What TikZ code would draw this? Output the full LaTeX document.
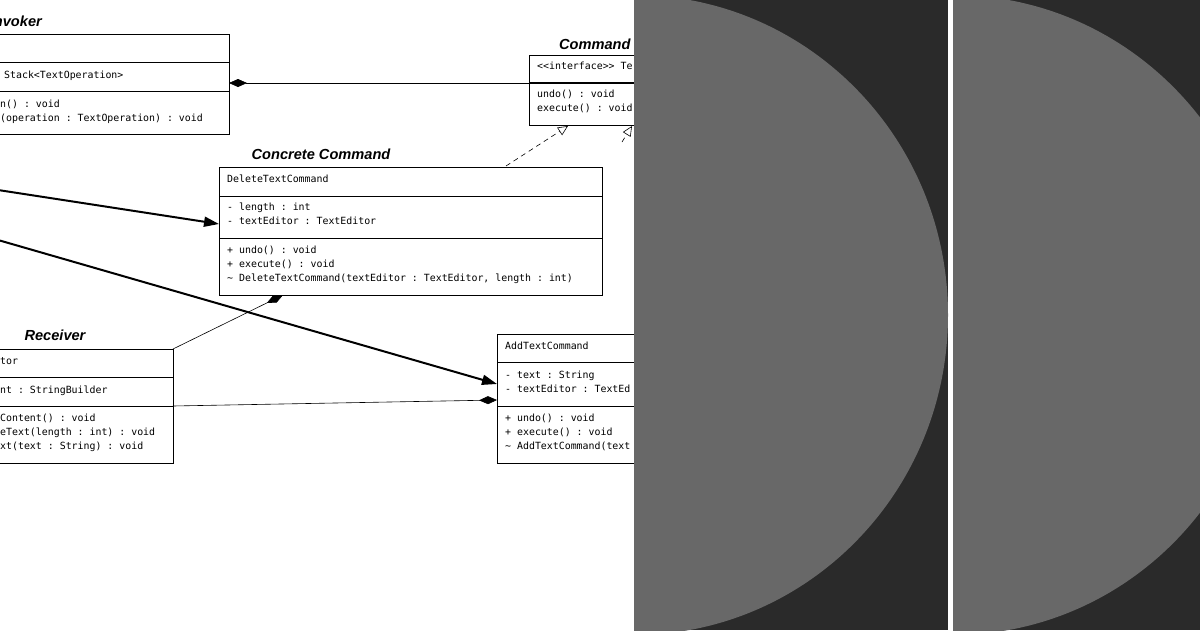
\documentclass[tikz,border=0pt]{standalone}
\usepackage{fontspec}
\setmainfont{Liberation Sans}
\setmonofont{DejaVu Sans Mono}
\usetikzlibrary{arrows.meta,positioning}
\definecolor{panelDark}{RGB}{42,42,42}
\definecolor{panelGrey}{RGB}{104,104,104}
\tikzset{
  umlbox/.style={draw, line width=0.6pt, fill=white, inner sep=0pt, anchor=north west},
  member/.style={anchor=base west, inner sep=0pt, font=\ttfamily\fontsize{9.9}{11}\selectfont},
  role/.style={inner sep=0pt, font=\bfseries\itshape\fontsize{14.6}{16}\selectfont},
  assoc/.style={line width=2pt, -{Triangle[length=15pt,width=10pt]}},
  compose/.style={line width=0.6pt, {Diamond[length=18pt,width=8pt]}-},
  realize/.style={line width=0.6pt, dashed, dash pattern=on 5pt off 4pt, -{Triangle[open,length=10pt,width=9pt,fill=white]}}
}
\begin{document}
\begin{tikzpicture}[x=1pt,y=-1pt]
  \useasboundingbox (0,0) rectangle (1200,630);
  % roles
  \node[role, anchor=base east] (tInvoker) at (42,26) {Invoker};
  \node[role, anchor=base west] (tCommand) at (559,49) {Command};
  \node[role, anchor=base] (tConcrete) at (321,159) {Concrete Command};
  \node[role, anchor=base] (tReceiver) at (55,340) {Receiver};

  % Invoker
  \node[umlbox, minimum width=240pt, minimum height=100pt] (invoker) at (-11,34) {};
  \draw (-11,62) -- (229,62);
  \draw (-11,91) -- (229,91);
  \node[member] (inv1) at (4,78) {Stack<TextOperation>};
  \node[member] (inv2) at (0,107) {n() : void};
  \node[member] (inv3) at (0,121) {(operation : TextOperation) : void};

  % Command interface
  \node[umlbox, minimum width=120pt, minimum height=70pt] (command) at (529,55) {};
  \draw[line width=1.1pt] (529,83) -- (649,83);
  \node[member] (cmd1) at (537,69) {<<interface>> Te};
  \node[member] (cmd2) at (537,97) {undo() : void};
  \node[member] (cmd3) at (537,111) {execute() : void};

  % DeleteTextCommand
  \node[umlbox, minimum width=383pt, minimum height=128pt] (delete) at (219,167) {};
  \draw (219,196) -- (602,196);
  \draw (219,238) -- (602,238);
  \node[member] (del0) at (227,182) {DeleteTextCommand};
  \node[member] (del1) at (227,210) {- length : int};
  \node[member] (del2) at (227,224) {- textEditor : TextEditor};
  \node[member] (del3) at (227,253) {+ undo() : void};
  \node[member] (del4) at (227,267) {+ execute() : void};
  \node[member] (del5) at (227,281) {\textasciitilde{} DeleteTextCommand(textEditor : TextEditor, length : int)};

  % Receiver
  \node[umlbox, minimum width=184pt, minimum height=114pt] (receiver) at (-11,349) {};
  \draw (-11,377) -- (173,377);
  \draw (-11,406) -- (173,406);
  \node[member] (rec0) at (0,364) {tor};
  \node[member] (rec1) at (0,393) {nt : StringBuilder};
  \node[member] (rec2) at (0,421) {Content() : void};
  \node[member] (rec3) at (0,435) {eText(length : int) : void};
  \node[member] (rec4) at (0,449) {xt(text : String) : void};

  % AddTextCommand
  \node[umlbox, minimum width=150pt, minimum height=129pt] (add) at (497,334) {};
  \draw (497,362) -- (647,362);
  \draw (497,406) -- (647,406);
  \node[member] (add0) at (505,349) {AddTextCommand};
  \node[member] (add1) at (505,378) {- text : String};
  \node[member] (add2) at (505,392) {- textEditor : TextEd};
  \node[member] (add3) at (505,421) {+ undo() : void};
  \node[member] (add4) at (505,435) {+ execute() : void};
  \node[member] (add5) at (505,449) {\textasciitilde{} AddTextCommand(text};

  % connectors
  \coordinate (clientA) at (-2,190);
  \coordinate (clientB) at (-2,240);
  \draw[assoc] (clientA) -- (219,224);
  \draw[assoc] (clientB) -- (497,384);
  \draw[compose] (229,83) -- (529,83);
  \draw[compose] (283,295) -- (173,349);
  \draw[compose] (497,400) -- (173,406);
  \draw[realize] (506,166) -- (568,126);
  \draw[realize] (622,142) -- (632,126);

  % right panel
  \fill[panelDark] (634,0) rectangle (1200,630);
  \fill[white] (948,0) rectangle (953,630);
  \begin{scope}
    \clip (634,0) rectangle (948,630);
    \fill[panelGrey] (634,315) ellipse [x radius=314, y radius=320];
  \end{scope}
  \begin{scope}
    \clip (953,0) rectangle (1200,630);
    \fill[panelGrey] (953,315) ellipse [x radius=314, y radius=320];
  \end{scope}
\end{tikzpicture}
\end{document}
